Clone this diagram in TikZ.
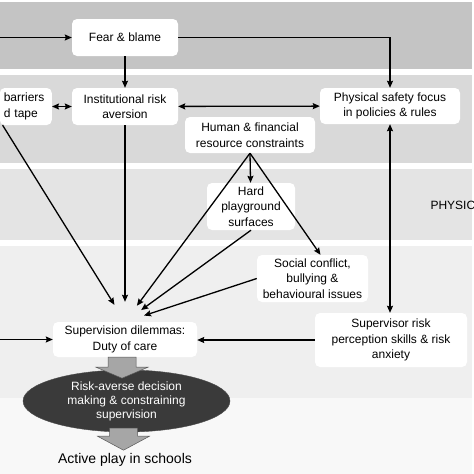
\documentclass[tikz,border=0pt]{standalone}
\usepackage{fontspec}
\setmainfont{Liberation Sans}
\usepackage{xcolor}
\usetikzlibrary{arrows.meta,arrows,positioning,shapes,shapes.geometric}

\definecolor{bandA}{HTML}{C4C4C4}
\definecolor{bandB}{HTML}{D9D9D9}
\definecolor{bandC}{HTML}{E4E4E4}
\definecolor{bandD}{HTML}{EFEFEF}
\definecolor{bandE}{HTML}{F8F8F8}
\definecolor{blkfill}{HTML}{A6A6A6}
\definecolor{ellfill}{HTML}{3A3A3A}

\begin{document}
\begin{tikzpicture}[
				> = {Stealth[length = 7pt, width = 6pt, inset = 1pt]}, % arrow head style
				x = 1pt, y = -1pt, % measured from the top left
				node distance = 69pt, % distance between nodes
				font = \fontsize{12}{15.5}\selectfont
			]
			
			\tikzstyle{box}=[
			fill = white,
			rounded corners = 5pt,
			align = center,
			inner sep = 0pt
			]
			\tikzstyle{link}=[->, line width = 1.3pt, draw = black]
			\tikzstyle{meet}=[link, shorten > = 20pt]
			\tikzstyle{blk}=[fill = blkfill, draw = gray!70!black, line width = 0.5pt]
			
			\useasboundingbox (0,0) rectangle (474,474);
			\fill[white] (0,0) rectangle (474,474);
			
			% bands
			\fill[bandA] (0,2) rectangle (472,69);
			\fill[bandB] (0,75) rectangle (472,163);
			\fill[bandC] (0,169) rectangle (472,240);
			\fill[bandD] (0,246) rectangle (472,398);
			\fill[bandE] (0,398) rectangle (472,474);
			
			\node[box, minimum width = 106pt, minimum height = 37pt] (fear) at (125,37.5) {Fear \& blame};
			\node[box, minimum width = 106pt, minimum height = 37pt, below of = fear] (inst) {Institutional risk\\aversion};
			\node[box, anchor = east, text width = 44pt, inner xsep = 4pt, minimum height = 37pt, align = left] (barr) at (52,106.5) {barriers\\d tape};
			\node[box, minimum width = 140pt, minimum height = 36pt] (phys) at (390,106) {Physical safety focus\\in policies \& rules};
			\node[box, minimum width = 130pt, minimum height = 36pt] (hum) at (250,135) {Human \& financial\\resource constraints};
			\node[box, minimum width = 88pt, minimum height = 47pt] (hard) at (251,206.5) {Hard\\playground\\surfaces};
			\node[box, minimum width = 111pt, minimum height = 47pt] (soc) at (312.5,278.5) {Social conflict,\\bullying \&\\behavioural issues};
			\node[box, minimum width = 144pt, minimum height = 35pt] (dil) at (125,339.5) {Supervision dilemmas:\\Duty of care};
			\node[box, minimum width = 152pt, minimum height = 54pt] (sup) at (391,340) {Supervisor risk\\perception skills \& risk\\anxiety};
			\node[ellipse, fill = ellfill, draw = gray!60!black, text = white, align = center, inner sep = 0pt,
			minimum width = 207pt, minimum height = 62pt, font = \fontsize{12}{14}\selectfont] (ell) at (126.5,401) {Risk-averse decision\\making \& constraining\\supervision};
			\node[font = \fontsize{14}{16}\selectfont] (act) at (125,460) {Active play in schools};
			\node[anchor = west] (phy) at (427,205) {PHYSIC};
			
			\coordinate (lf) at (0,37.5);
			\coordinate (ld) at (0,339.5);
			
			\draw[link] (lf) -- (fear);
			\draw[link] (fear) -| (phys);
			\draw[link] (fear) -- (inst);
			\draw[link, <->] (barr) -- (inst);
			\draw[link, <->] (inst) -- (phys);
			\draw[meet] (inst) -- (dil);
			\draw[meet] ([xshift = 3pt]barr.south west) -- (dil.north);
			\draw[link] (hum.south) -- (hard);
			\draw[meet] (hum.south) -- (dil.north);
			\draw[link] (hum.south) -- ([xshift = 8pt]soc.north);
			\draw[meet] (hard.south) -- (dil.north);
			\draw[meet] (soc.west) -- (dil.north);
			\draw[link] (sup.west) -- (sup.west -| dil.east);
			\draw[link] (ld) -- (dil);
			\draw[link, <->] (phys.south) -- (phys.south |- sup.north);
			
			% block arrows
			\draw[blk] ([xshift = -17pt]dil.south) -- ++(0,10) -- ++(-12,0) -- ++(26,11) -- ++(26,-11) -- ++(-12,0) -- ++(0,-10) -- cycle;
			\draw[blk] ([xshift = -17pt, yshift = 4pt]ell.south) -- ++(0,8) -- ++(-12,0) -- ++(26,14) -- ++(26,-14) -- ++(-12,0) -- ++(0,-8) -- cycle;
		\end{tikzpicture}
\end{document}
